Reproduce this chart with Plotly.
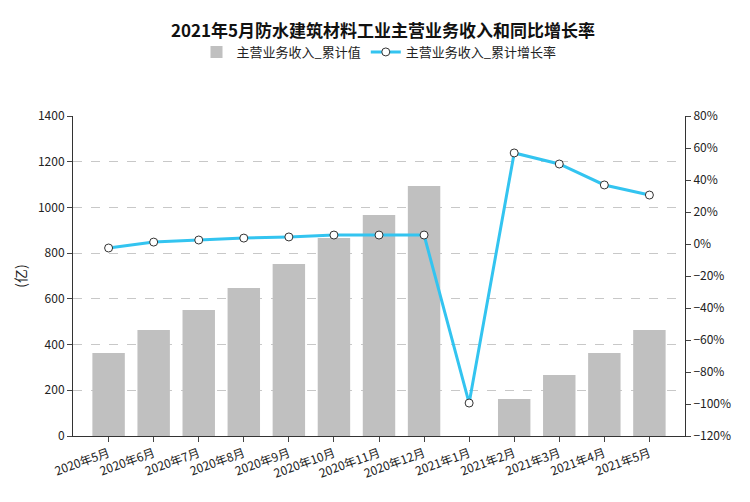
import plotly.graph_objects as go

categories = ["2020年5月","2020年6月","2020年7月","2020年8月","2020年9月","2020年10月","2020年11月","2020年12月",
              "2021年1月","2021年2月","2021年3月","2021年4月","2021年5月"]
revenue = [363, 464, 551, 647, 752, 866, 967, 1094, None, 162, 267, 363, 464]
growth = [-2.5, 1.2, 2.5, 3.7, 4.4, 5.6, 5.6, 5.6, -99.4, 56.9, 50.0, 36.9, 30.6]

font = "Noto Sans CJK SC"
fig = go.Figure()
fig.add_trace(go.Bar(x=categories, y=revenue, name="主营业务收入_累计值",
                     marker=dict(color="#c0c0c0", line=dict(width=0)), width=0.72))
fig.add_trace(go.Scatter(x=categories, y=growth, name="主营业务收入_累计增长率", yaxis="y2",
                         mode="lines+markers",
                         line=dict(color="#33c4f0", width=3),
                         marker=dict(size=8, color="white", line=dict(color="#333", width=1))))
fig.update_layout(
    width=750, height=502, plot_bgcolor="white", paper_bgcolor="white",
    font=dict(family=font, size=12, color="#222"),
    title=dict(text="<b>2021年5月防水建筑材料工业主营业务收入和同比增长率</b>", x=0.5, y=0.965,
               xanchor="center", font=dict(size=17, color="#111")),
    legend=dict(orientation="h", x=0.5, xanchor="center", y=1.2, yanchor="middle",
                font=dict(size=13)),
    margin=dict(l=59, r=73, t=108, b=74),
    bargap=0.3,
    xaxis=dict(tickangle=-20, showline=True, linecolor="#333", ticks="outside",
               tickfont=dict(size=12)),
    yaxis=dict(range=[0, 1400], dtick=200, showline=True, linecolor="#333", ticks="outside",
               gridcolor="#c8c8c8", griddash="dash", zeroline=False,
               title=dict(text="(亿)", standoff=8)),
    yaxis2=dict(range=[-120, 80], dtick=20, overlaying="y", side="right", ticksuffix="%",
                showline=True, linecolor="#333", ticks="outside", showgrid=False, zeroline=False),
)
fig.write_html("out.html")
